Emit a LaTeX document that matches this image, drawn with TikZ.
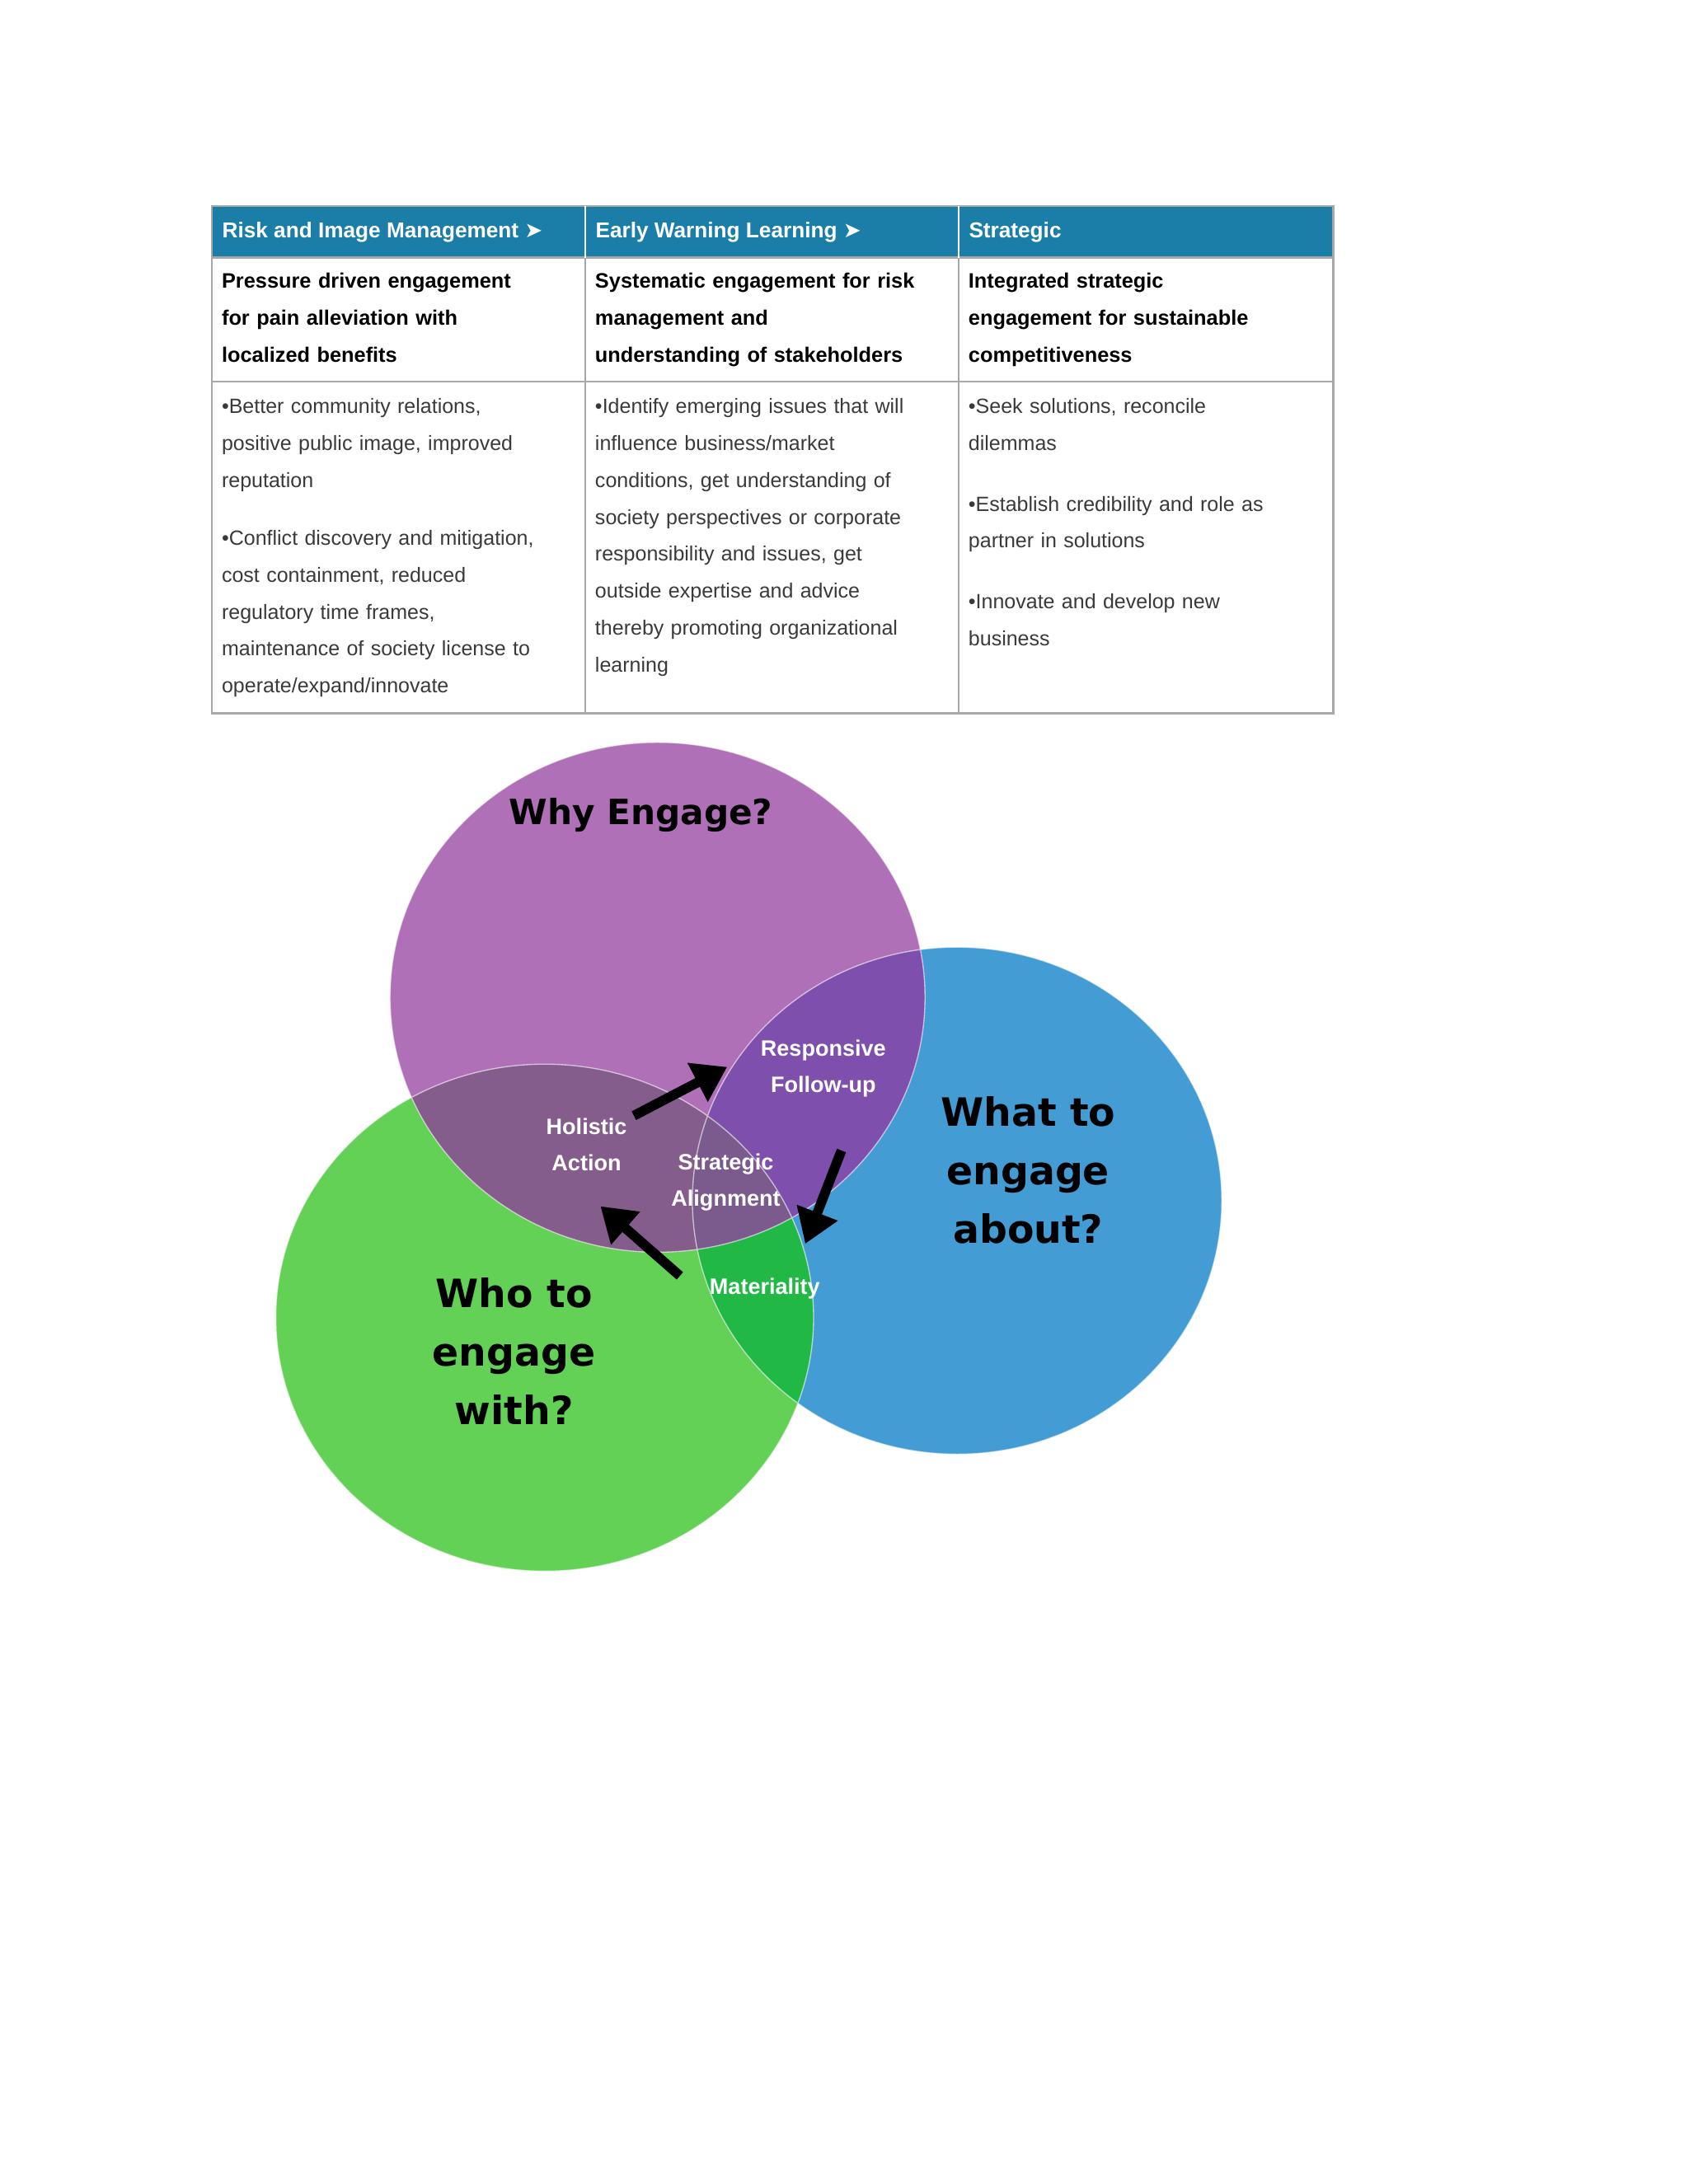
\documentclass[tikz,border=0pt]{standalone}
\usepackage{fontspec}
\setmainfont{Liberation Sans}
\newfontfamily\venn{DejaVu Sans}
\usetikzlibrary{arrows.meta}
\definecolor{hdr}{HTML}{1A7EA8}
\definecolor{grid}{HTML}{A8A8A8}
\definecolor{bodytxt}{HTML}{3A3A3A}
\definecolor{cpur}{HTML}{B070B8}
\definecolor{cblu}{HTML}{439CD4}
\definecolor{cgrn}{HTML}{63D155}
\definecolor{cpb}{HTML}{7E4FAC}
\definecolor{cpg}{HTML}{855D8C}
\definecolor{cbg}{HTML}{22B845}
\definecolor{cpbg}{HTML}{7B5A8E}
\tikzset{
  hdrtxt/.style={anchor=west,text=white,font=\bfseries\fontsize{15.5}{17}\selectfont},
  celltxt/.style={anchor=north west,align=left,text width=262pt,inner sep=2pt,font=\bfseries\fontsize{15}{26.5}\selectfont},
  bodytx/.style={anchor=north west,align=left,text width=262pt,inner sep=2pt,text=bodytxt,font=\fontsize{14.8}{26.5}\selectfont},
  big/.style={align=center,font=\venn\bfseries\fontsize{28}{42}\selectfont},
  lbl/.style={align=center,text=white,font=\bfseries\fontsize{16}{26}\selectfont},
  arr/.style={line width=7pt,-{Triangle[length=24pt,width=30pt]}},
}
\begin{document}
\begin{tikzpicture}[x=1pt,y=-1pt]
\useasboundingbox[fill=white] (0,0) rectangle (1212,1568);
% table
\fill[hdr] (152,148) rectangle (957,185);
\draw[grid,line width=1.5pt] (152,148) rectangle (957,512);
\draw[grid,line width=1.5pt] (152,185) -- (957,185) (152,274) -- (957,274)
  (420,148) -- (420,512) (688,148) -- (688,512);
\draw[white,line width=1.5pt] (420,148) -- (420,185) (688,148) -- (688,185);
\node[hdrtxt] (h1) at (156,167) {Risk and Image Management {\venn ➤}};
\node[hdrtxt] (h2) at (424,167) {Early Warning Learning {\venn ➤}};
\node[hdrtxt] (h3) at (692,167) {Strategic};
\node[celltxt] (c1) at (157,194) {Pressure driven engagement\\for pain alleviation with\\localized benefits};
\node[celltxt] (c2) at (425,194) {Systematic engagement for risk\\management and\\understanding of stakeholders};
\node[celltxt] (c3) at (693,194) {Integrated strategic\\engagement for sustainable\\competitiveness};
\node[bodytx] (b1) at (157,284) {•Better community relations,\\positive public image, improved\\reputation\\[15pt]•Conflict discovery and mitigation,\\cost containment, reduced\\regulatory time frames,\\maintenance of society license to\\operate/expand/innovate};
\node[bodytx] (b2) at (425,284) {•Identify emerging issues that will\\influence business/market\\conditions, get understanding of\\society perspectives or corporate\\responsibility and issues, get\\outside expertise and advice\\thereby promoting organizational\\learning};
\node[bodytx] (b3) at (693,284) {•Seek solutions, reconcile\\dilemmas\\[17pt]•Establish credibility and role as\\partner in solutions\\[17pt]•Innovate and develop new\\business};
% venn
\def\P{(472,716) ellipse [x radius=192,y radius=183]}
\def\B{(687,862) ellipse [x radius=190,y radius=182]}
\def\G{(391,946) ellipse [x radius=193,y radius=182]}
\fill[cgrn] \G;
\fill[cblu] \B;
\fill[cpur] \P;
\begin{scope}\clip \P; \fill[cpb] \B; \end{scope}
\begin{scope}\clip \P; \fill[cpg] \G; \end{scope}
\begin{scope}\clip \B; \fill[cbg] \G; \end{scope}
\begin{scope}\clip \P; \clip \B; \fill[cpbg] \G; \end{scope}
\draw[white,opacity=0.6,line width=0.8pt] \P \B \G;
\node[big,font=\venn\bfseries\fontsize{25}{30}\selectfont] (why) at (460,585) {Why Engage?};
\node[big] (what) at (738,840) {What to\\engage\\about?};
\node[big] (who) at (369,970) {Who to\\engage\\with?};
\node[lbl] (resp) at (591,767) {Responsive\\Follow-up};
\node[lbl] (hol) at (421,822) {Holistic\\Action};
\node[lbl] (strat) at (521,849) {Strategic\\Alignment};
\node[lbl] (mat) at (549,925) {Materiality};
\coordinate (a1s) at (455,801); \coordinate (a1e) at (522,766);
\coordinate (a2s) at (604,826); \coordinate (a2e) at (578,893);
\coordinate (a3s) at (488,916); \coordinate (a3e) at (431,866);
\draw[arr] (a1s) -- (a1e);
\draw[arr] (a2s) -- (a2e);
\draw[arr] (a3s) -- (a3e);
\end{tikzpicture}
\end{document}
